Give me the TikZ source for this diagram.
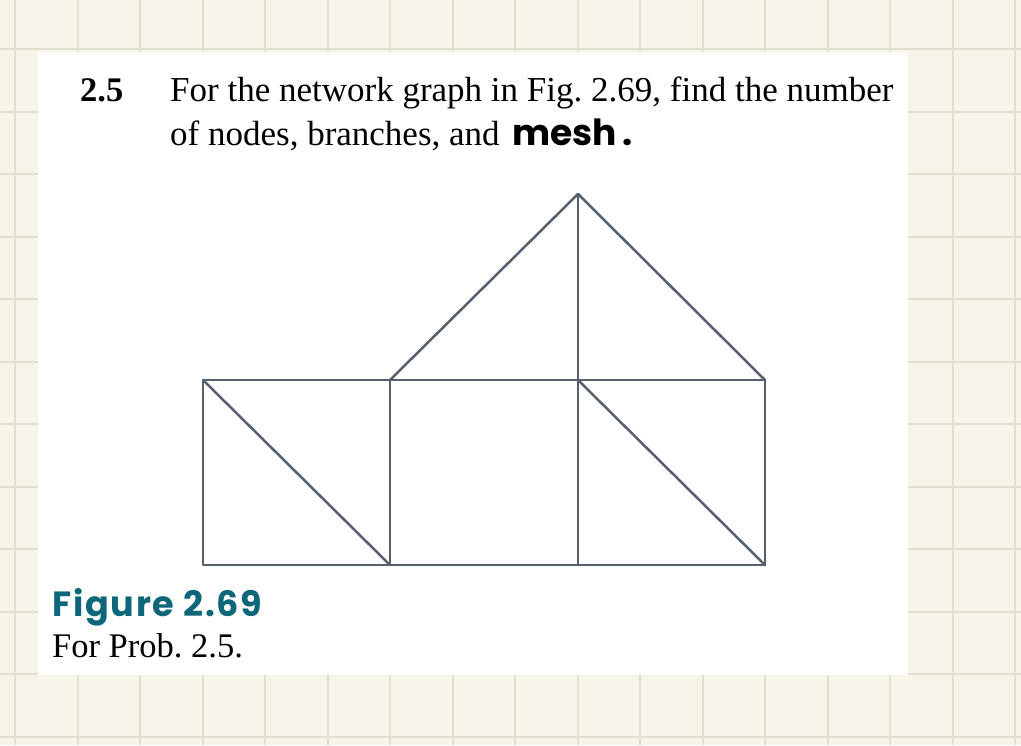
\documentclass[tikz,border=0pt]{standalone}
\usepackage{fontspec}
\setmainfont{Liberation Serif}
\newfontfamily\captionfont{Poppins}[LetterSpace=5]
\newfontfamily\handfont{Poppins}
\usetikzlibrary{positioning}
\definecolor{paper}{RGB}{247,245,234}
\definecolor{gridline}{RGB}{226,223,208}
\definecolor{slate}{RGB}{86,96,110}
\definecolor{teal}{RGB}{14,102,122}
\tikzset{
    % sheet behind the problem
    sheet/.style={
        fill=white,
        draw=none,
    },
    % ruled lines of the notebook
    ruling/.style={
        draw=gridline,
        line width=2pt,
    },
    % branches of the network graph
    branch/.style={
        draw=slate,
        line width=2.5pt,
        line cap=round,
        line join=round,
    },
    % printed text
    body/.style={
        anchor=base west,
        inner sep=0pt,
        font=\fontsize{35}{40}\selectfont,
    },
}

\begin{document}
\begin{tikzpicture}[x=1pt,y=-1pt]
\useasboundingbox (0,0) rectangle (1021,745);
% Notebook paper
\fill[paper] (0,0) rectangle (1021,745);
\foreach \gx in {0,...,16}
    \draw[ruling] (15+62.5*\gx,0) -- (15+62.5*\gx,745);
\foreach \gy in {0,...,11}
    \draw[ruling] (0,49+62.5*\gy) -- (1021,49+62.5*\gy);
\path[sheet] (38,52) rectangle (908,675);

%TEXT_BEGIN%
    \node[body,font=\fontsize{34.5}{40}\selectfont\bfseries] (num) at (80,101) {2.5};
    \node[body] (line1) at (170,101) {For the network graph in Fig.\ 2.69, find the number};
    \node[body] (line2) at (170,145) {of nodes, branches, and};
    \node[body,font=\fontsize{36}{40}\selectfont\handfont\bfseries] (mesh) at (512,145) {mesh\,.};
%TEXT_END%

%GRAPH_BEGIN%
    % Junctions
    \coordinate (apex) at (578,194);
    \coordinate (t1) at (203,380);
    \coordinate (t2) at (390,380);
    \coordinate (t3) at (578,380);
    \coordinate (t4) at (765,380);
    \coordinate (b1) at (203,565);
    \coordinate (b2) at (390,565);
    \coordinate (b3) at (578,565);
    \coordinate (b4) at (765,565);
    % Roof
    \draw[branch] (t2) -- (apex) -- (t4);
    \draw[branch] (apex) -- (t3);
    % Row of squares
    \draw[branch] (t1) -- (t2) -- (t3) -- (t4) -- (b4) -- (b3) -- (b2) -- (b1) -- cycle;
    \draw[branch] (t2) -- (b2);
    \draw[branch] (t3) -- (b3);
    % Diagonals
    \draw[branch] (t1) -- (b2);
    \draw[branch] (t3) -- (b4);
%GRAPH_END%

%CAPTION_BEGIN%
    \node[body,font=\fontsize{35}{38}\selectfont\captionfont\bfseries,text=teal] (figlabel) at (52,616) {Figure 2.69};
    \node[body,font=\fontsize{34.5}{40}\selectfont] (figtext) at (52,657) {For Prob.\ 2.5.};
%CAPTION_END%
\end{tikzpicture}
\end{document}
